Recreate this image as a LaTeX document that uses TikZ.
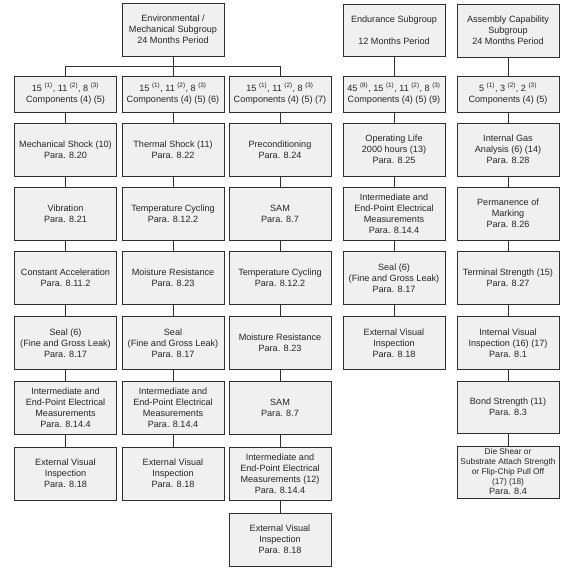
\documentclass[tikz,border=0pt]{standalone}
\usepackage{fontspec}
\setmainfont{Liberation Sans}
\definecolor{boxfill}{HTML}{F0F0F0}
\definecolor{edge}{HTML}{303030}
\newcommand{\sps}[1]{\textsuperscript{(#1)}}
\begin{document}
\begin{tikzpicture}[x=1pt,y=-1pt,
  box/.style={draw=edge, fill=boxfill, line width=0.8pt, minimum width=102pt,
    minimum height=53pt, inner sep=1pt, align=center,
    font=\fontsize{9.1}{11}\selectfont, text=black!85},
  hdr/.style={box, minimum height=36pt},
  link/.style={draw=edge, line width=1pt}]
\useasboundingbox (0,0) rectangle (575,574);

% top boxes
\node[box] (env) at (173,29.5) {Environmental /\\Mechanical Subgroup\\24 Months Period};
\node[box, minimum height=52pt] (endu) at (394,30) {Endurance Subgroup\\[11pt]12 Months Period};
\node[box] (asm) at (508,30.5) {Assembly Capability\\Subgroup\\24 Months Period};

% row 1
\node[hdr] (c1r1) at (65.5,94) {15 \sps{1}, 11 \sps{2}, 8 \sps{3}\\Components (4) (5)};
\node[hdr] (c2r1) at (173,94) {15 \sps{1}, 11 \sps{2}, 8 \sps{3}\\Components (4) (5) (6)};
\node[hdr] (c3r1) at (280,94) {15 \sps{1}, 11 \sps{2}, 8 \sps{3}\\Components (4) (5) (7)};
\node[hdr] (c4r1) at (394,94) {45 \sps{8}, 15 \sps{1}, 11 \sps{2}, 8 \sps{3}\\Components (4) (5) (9)};
\node[hdr] (c5r1) at (508,94) {5 \sps{1}, 3 \sps{2}, 2 \sps{3}\\Components (4) (5)};

% column 1
\node[box] (c1r2) at (65.5,149.5) {Mechanical Shock (10)\\Para. 8.20};
\node[box] (c1r3) at (65.5,213.5) {Vibration\\Para. 8.21};
\node[box] (c1r4) at (65.5,278) {Constant Acceleration\\Para. 8.11.2};
\node[box] (c1r5) at (65.5,343) {Seal (6)\\(Fine and Gross Leak)\\Para. 8.17};
\node[box] (c1r6) at (65.5,408) {Intermediate and\\End-Point Electrical\\Measurements\\Para. 8.14.4};
\node[box] (c1r7) at (65.5,473.5) {External Visual\\Inspection\\Para. 8.18};

% column 2
\node[box] (c2r2) at (173,149.5) {Thermal Shock (11)\\Para. 8.22};
\node[box] (c2r3) at (173,213.5) {Temperature Cycling\\Para. 8.12.2};
\node[box] (c2r4) at (173,278) {Moisture Resistance\\Para. 8.23};
\node[box] (c2r5) at (173,343) {Seal\\(Fine and Gross Leak)\\Para. 8.17};
\node[box] (c2r6) at (173,408) {Intermediate and\\End-Point Electrical\\Measurements\\Para. 8.14.4};
\node[box] (c2r7) at (173,473.5) {External Visual\\Inspection\\Para. 8.18};

% column 3
\node[box] (c3r2) at (280,149.5) {Preconditioning\\Para. 8.24};
\node[box] (c3r3) at (280,213.5) {SAM\\Para. 8.7};
\node[box] (c3r4) at (280,278) {Temperature Cycling\\Para. 8.12.2};
\node[box] (c3r5) at (280,343) {Moisture Resistance\\Para. 8.23};
\node[box] (c3r6) at (280,408) {SAM\\Para. 8.7};
\node[box] (c3r7) at (280,473.5) {Intermediate and\\End-Point Electrical\\Measurements (12)\\Para. 8.14.4};
\node[box] (c3r8) at (280,539.5) {External Visual\\Inspection\\Para. 8.18};

% column 4
\node[box] (c4r2) at (394,149.5) {Operating Life\\2000 hours (13)\\Para. 8.25};
\node[box] (c4r3) at (394,213.5) {Intermediate and\\End-Point Electrical\\Measurements\\Para. 8.14.4};
\node[box] (c4r4) at (394,278) {Seal (6)\\(Fine and Gross Leak)\\Para. 8.17};
\node[box] (c4r5) at (394,343) {External Visual\\Inspection\\Para. 8.18};

% column 5
\node[box] (c5r2) at (508,149.5) {Internal Gas\\Analysis (6) (14)\\Para. 8.28};
\node[box] (c5r3) at (508,213.5) {Permanence of\\Marking\\Para. 8.26};
\node[box] (c5r4) at (508,278) {Terminal Strength (15)\\Para. 8.27};
\node[box] (c5r5) at (508,343) {Internal Visual\\Inspection (16) (17)\\Para. 8.1};
\node[box, minimum height=52pt] (c5r6) at (508,407) {Bond Strength (11)\\Para. 8.3};
\node[box, minimum height=52pt, font=\fontsize{8.3}{10}\selectfont] (c5r7) at (508,472)
  {Die Shear or\\Substrate Attach Strength\\or Flip-Chip Pull Off\\(17) (18)\\{\fontsize{9.1}{10}\selectfont Para. 8.4}};

% connectors
\draw[link] (env.south) -- (c2r1.north);
\draw[link] (c1r1.north) -- ++(0,-9) coordinate (busl) -| (c3r1.north);
\draw[link] (endu.south) -- (c4r1.north);
\draw[link] (asm.south) -- (c5r1.north);

\foreach \c/\n in {1/7, 2/7, 3/8, 4/5, 5/7}{
  \foreach \r [evaluate=\r as \s using int(\r+1)] in {1,...,\n}{
    \ifnum\r<\n
      \draw[link] (c\c r\r.south) -- (c\c r\s.north);
    \fi
  }
}
\end{tikzpicture}
\end{document}
